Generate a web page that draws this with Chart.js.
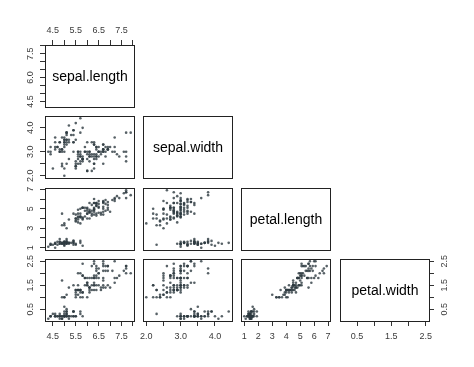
<!DOCTYPE html>
<html>
<head>
<meta charset="utf-8">
<script src="https://cdn.jsdelivr.net/npm/chart.js@4/dist/chart.umd.min.js"></script>
<style>
html, body { margin: 0; padding: 0; background: #fff; }
#wrap { position: relative; width: 474px; height: 367px; overflow: hidden; }
#wrap canvas { position: absolute; left: 0; top: 0; }
</style>
</head>
<body>
<div id="wrap"></div>
<script>
// iris measurements, one array per variable
var varNames = ['sepal.length', 'sepal.width', 'petal.length', 'petal.width'];

var sepalLength = [
    5.1,4.9,4.7,4.6,5.0,5.4,4.6,5.0,4.4,4.9, 5.4,4.8,4.8,4.3,5.8,5.7,5.4,5.1,5.7,5.1,
    5.4,5.1,4.6,5.1,4.8,5.0,5.0,5.2,5.2,4.7, 4.8,5.4,5.2,5.5,4.9,5.0,5.5,4.9,4.4,5.1,
    5.0,4.5,4.4,5.0,5.1,4.8,5.1,4.6,5.3,5.0,
    7.0,6.4,6.9,5.5,6.5,5.7,6.3,4.9,6.6,5.2, 5.0,5.9,6.0,6.1,5.6,6.7,5.6,5.8,6.2,5.6,
    5.9,6.1,6.3,6.1,6.4,6.6,6.8,6.7,6.0,5.7, 5.5,5.5,5.8,6.0,5.4,6.0,6.7,6.3,5.6,5.5,
    5.5,6.1,5.8,5.0,5.6,5.7,5.7,6.2,5.1,5.7,
    6.3,5.8,7.1,6.3,6.5,7.6,4.9,7.3,6.7,7.2, 6.5,6.4,6.8,5.7,5.8,6.4,6.5,7.7,7.7,6.0,
    6.9,5.6,7.7,6.3,6.7,7.2,6.2,6.1,6.4,7.2, 7.4,7.9,6.4,6.3,6.1,7.7,6.3,6.4,6.0,6.9,
    6.7,6.9,5.8,6.8,6.7,6.7,6.3,6.5,6.2,5.9
];
var sepalWidth = [
    3.5,3.0,3.2,3.1,3.6,3.9,3.4,3.4,2.9,3.1, 3.7,3.4,3.0,3.0,4.0,4.4,3.9,3.5,3.8,3.8,
    3.4,3.7,3.6,3.3,3.4,3.0,3.4,3.5,3.4,3.2, 3.1,3.4,4.1,4.2,3.1,3.2,3.5,3.6,3.0,3.4,
    3.5,2.3,3.2,3.5,3.8,3.0,3.8,3.2,3.7,3.3,
    3.2,3.2,3.1,2.3,2.8,2.8,3.3,2.4,2.9,2.7, 2.0,3.0,2.2,2.9,2.9,3.1,3.0,2.7,2.2,2.5,
    3.2,2.8,2.5,2.8,2.9,3.0,2.8,3.0,2.9,2.6, 2.4,2.4,2.7,2.7,3.0,3.4,3.1,2.3,3.0,2.5,
    2.6,3.0,2.6,2.3,2.7,3.0,2.9,2.9,2.5,2.8,
    3.3,2.7,3.0,2.9,3.0,3.0,2.5,2.9,2.5,3.6, 3.2,2.7,3.0,2.5,2.8,3.2,3.0,3.8,2.6,2.2,
    3.2,2.8,2.8,2.7,3.3,3.2,2.8,3.0,2.8,3.0, 2.8,3.8,2.8,2.8,2.6,3.0,3.4,3.1,3.0,3.1,
    3.1,3.1,2.7,3.2,3.3,3.0,2.5,3.0,3.4,3.0
];
var petalLength = [
    1.4,1.4,1.3,1.5,1.4,1.7,1.4,1.5,1.4,1.5, 1.5,1.6,1.4,1.1,1.2,1.5,1.3,1.4,1.7,1.5,
    1.7,1.5,1.0,1.7,1.9,1.6,1.6,1.5,1.4,1.6, 1.6,1.5,1.5,1.4,1.5,1.2,1.3,1.4,1.3,1.5,
    1.3,1.3,1.3,1.6,1.9,1.4,1.6,1.4,1.5,1.4,
    4.7,4.5,4.9,4.0,4.6,4.5,4.7,3.3,4.6,3.9, 3.5,4.2,4.0,4.7,3.6,4.4,4.5,4.1,4.5,3.9,
    4.8,4.0,4.9,4.7,4.3,4.4,4.8,5.0,4.5,3.5, 3.8,3.7,3.9,5.1,4.5,4.5,4.7,4.4,4.1,4.0,
    4.4,4.6,4.0,3.3,4.2,4.2,4.2,4.3,3.0,4.1,
    6.0,5.1,5.9,5.6,5.8,6.6,4.5,6.3,5.8,6.1, 5.1,5.3,5.5,5.0,5.1,5.3,5.5,6.7,6.9,5.0,
    5.7,4.9,6.7,4.9,5.7,6.0,4.8,4.9,5.6,5.8, 6.1,6.4,5.6,5.1,5.6,6.1,5.6,5.5,4.8,5.4,
    5.6,5.1,5.1,5.9,5.7,5.2,5.0,5.2,5.4,5.1
];
var petalWidth = [
    0.2,0.2,0.2,0.2,0.2,0.4,0.3,0.2,0.2,0.1, 0.2,0.2,0.1,0.1,0.2,0.4,0.4,0.3,0.3,0.3,
    0.2,0.4,0.2,0.5,0.2,0.2,0.4,0.2,0.2,0.2, 0.2,0.4,0.1,0.2,0.2,0.2,0.2,0.1,0.2,0.2,
    0.3,0.3,0.2,0.6,0.4,0.3,0.2,0.2,0.2,0.2,
    1.4,1.5,1.5,1.3,1.5,1.3,1.6,1.0,1.3,1.4, 1.0,1.5,1.0,1.4,1.3,1.4,1.5,1.0,1.5,1.1,
    1.8,1.3,1.5,1.2,1.3,1.4,1.4,1.7,1.5,1.0, 1.1,1.0,1.2,1.6,1.5,1.6,1.5,1.3,1.3,1.3,
    1.2,1.4,1.2,1.0,1.3,1.2,1.3,1.3,1.1,1.3,
    2.5,1.9,2.1,1.8,2.2,2.1,1.7,1.8,1.8,2.5, 2.0,1.9,2.1,2.0,2.4,2.3,1.8,2.2,2.3,1.5,
    2.3,2.0,2.0,1.8,2.1,1.8,1.8,1.8,2.1,1.6, 1.9,2.0,2.2,1.5,1.4,2.3,2.4,1.8,1.8,2.1,
    2.4,2.3,1.9,2.3,2.5,2.3,1.9,2.0,2.3,1.8
];

// tick marks and which of them carry a label
var tickValues = [[4.5,5,5.5,6,6.5,7,7.5,8], [2,2.5,3,3.5,4], [1,2,3,4,5,6,7], [0.5,1,1.5,2,2.5]];
var xLabelValues = [[4.5,5.5,6.5,7.5], [2,3,4], [1,2,3,4,5,6,7], [0.5,1.5,2.5]];
var yLabelValues = [[4.5,6,7.5], [2,3,4], [1,3,5,7], [0.5,1.5,2.5]];
var labelDecimals = [1, 1, 0, 1];

var columns = [sepalLength, sepalWidth, petalLength, petalWidth];

// panel layout
var colLeft = [45, 143, 241, 340];
var rowTop = [45, 116, 188, 259];
var panelW = 89, panelH = 62;
var AX = 30;
var tickFont = '9px "Liberation Sans", Arial, sans-serif';
var wrap = document.getElementById('wrap');

function axisRange(arr) {
    var lo = Math.min.apply(null, arr), hi = Math.max.apply(null, arr);
    var d = (hi - lo) * 0.04;
    return [lo - d, hi + d];
}

function makePanel(i, j) {
    var cv = document.createElement('canvas');
    cv.width = 474; cv.height = 367;
    wrap.appendChild(cv);

    var showTop = (i === 0 && j === 0);
    var showBottom = (i === 3);
    var showLeft = (j === 0);
    var showRight = (i === 3 && j === 3);
    var showX = showTop || showBottom;
    var showY = showLeft || showRight;

    var pad = {
        left: colLeft[j] - (showLeft ? AX : 0),
        right: 474 - colLeft[j] - panelW - (showRight && !showLeft ? AX : 0),
        top: rowTop[i] - (showTop ? AX : 0),
        bottom: 367 - rowTop[i] - panelH - (showBottom ? AX : 0)
    };

    var pts = [];
    if (i !== j) {
        for (var k = 0; k < columns[j].length; k++) {
            pts.push({ x: columns[j][k], y: columns[i][k] });
        }
    }

    var xr = axisRange(columns[j]);
    var yr = axisRange(columns[i]);
    var gridOpts = { display: true, drawOnChartArea: false, drawTicks: true, tickLength: 5, color: '#333', lineWidth: 1 };

    new Chart(cv.getContext('2d'), {
        type: 'scatter',
        data: {
            datasets: [{
                data: pts,
                pointRadius: 1.3,
                pointBorderWidth: 0,
                backgroundColor: 'rgba(45,58,64,0.8)'
            }]
        },
        options: {
            responsive: false,
            animation: false,
            events: [],
            layout: { padding: pad, autoPadding: false },
            plugins: { legend: { display: false }, tooltip: { enabled: false } },
            scales: {
                x: {
                    type: 'linear',
                    position: showTop ? 'top' : 'bottom',
                    display: showX,
                    min: xr[0], max: xr[1],
                    grid: gridOpts,
                    border: { display: false },
                    ticks: { display: false },
                    afterBuildTicks: function (s) { s.ticks = tickValues[j].map(function (v) { return { value: v }; }); },
                    afterFit: function (s) { s.height = showX ? AX : 0; }
                },
                y: {
                    type: 'linear',
                    position: showRight && !showLeft ? 'right' : 'left',
                    display: showY,
                    min: yr[0], max: yr[1],
                    grid: gridOpts,
                    border: { display: false },
                    ticks: { display: false },
                    afterBuildTicks: function (s) { s.ticks = tickValues[i].map(function (v) { return { value: v }; }); },
                    afterFit: function (s) { s.width = showY ? AX : 0; }
                }
            }
        },
        plugins: [{
            id: 'panelDecor',
            afterDraw: function (chart) {
                var ctx = chart.ctx;
                var xs = chart.scales.x, ys = chart.scales.y;
                var L = colLeft[j], T = rowTop[i];
                ctx.save();
                ctx.strokeStyle = '#222';
                ctx.lineWidth = 1;
                ctx.strokeRect(L + 0.5, T + 0.5, panelW, panelH);

                ctx.fillStyle = '#3a3a3a';
                ctx.font = tickFont;
                ctx.textAlign = 'center';
                ctx.textBaseline = 'middle';
                if (showX) {
                    xLabelValues[j].forEach(function (v) {
                        var ty = showTop ? T - 14 : T + panelH + 16;
                        ctx.fillText(v.toFixed(labelDecimals[j]), xs.getPixelForValue(v), ty);
                    });
                }
                if (showY) {
                    yLabelValues[i].forEach(function (v) {
                        var tx = showLeft ? L - 14 : L + panelW + 16;
                        ctx.save();
                        ctx.translate(tx, ys.getPixelForValue(v));
                        ctx.rotate(-Math.PI / 2);
                        ctx.fillText(v.toFixed(labelDecimals[i]), 0, 0);
                        ctx.restore();
                    });
                }
                if (i === j) {
                    ctx.fillStyle = '#000';
                    ctx.font = '14px "Liberation Sans", Arial, sans-serif';
                    ctx.fillText(varNames[i], L + panelW / 2 + 0.5, T + panelH / 2 + 1);
                }
                ctx.restore();
            }
        }]
    });
}

for (var i = 0; i < 4; i++) {
    for (var j = 0; j <= i; j++) {
        makePanel(i, j);
    }
}
</script>
</body>
</html>
